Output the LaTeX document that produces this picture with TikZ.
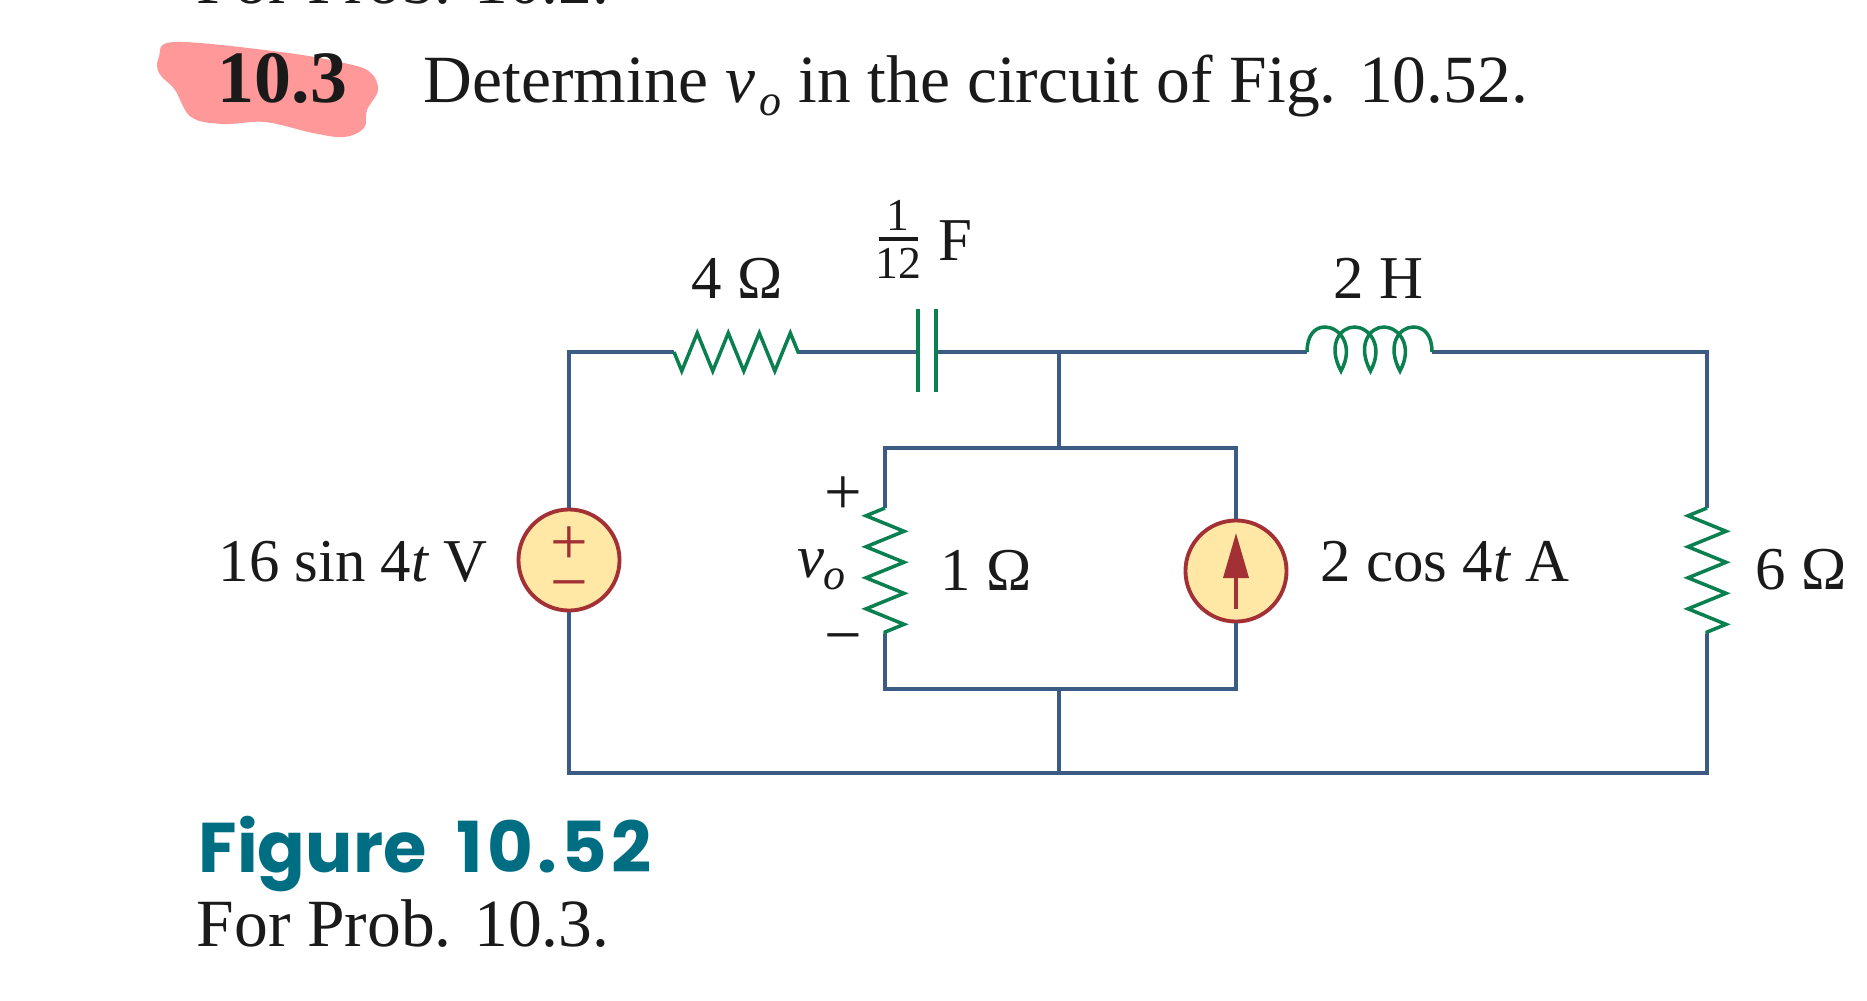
\documentclass[tikz,border=0pt]{standalone}
\usepackage{fontspec}
\setmainfont{Liberation Serif}
\newfontfamily\capfont{Poppins}
\usetikzlibrary{arrows.meta,decorations.pathmorphing}
\definecolor{wirec}{HTML}{3B5B85}
\definecolor{partc}{HTML}{0A8050}
\definecolor{srcc}{HTML}{A33035}
\definecolor{srcf}{HTML}{FFE8A5}
\definecolor{blobc}{HTML}{FF9999}
\definecolor{capc}{HTML}{006E82}
\definecolor{inkc}{HTML}{1A1A1A}
\tikzset{
  wire/.style={draw=wirec,line width=1pt,line join=miter},
  part/.style={draw=partc,line width=1pt},
  resistor/.style={part,decorate,decoration={zigzag,mirror,amplitude=0.19cm,segment length=0.31cm}},
  source/.style={circle,draw=srcc,fill=srcf,line width=1.1pt,minimum size=1.01cm,inner sep=0},
  lbl/.style={anchor=base west,inner sep=0,text=inkc,font=\fontsize{17.3}{20}\selectfont},
  txt/.style={anchor=base west,inner sep=0,text=inkc,font=\fontsize{19.2}{22}\selectfont},
  small/.style={anchor=base,inner sep=0,text=inkc,font=\fontsize{13}{15}\selectfont},
  sign/.style={anchor=base,inner sep=0,font=\fontsize{19}{22}\selectfont},
}
\newcommand{\vo}[1]{{\itshape v\kern#1\raisebox{-0.2em}{\fontsize{12.5}{14}\selectfont o}}}
\begin{document}
\begin{tikzpicture}[x=0.01cm,y=-0.01cm]
\useasboundingbox (0,0) rectangle (1867,1000);
% heading
\fill[blobc] plot[smooth cycle,tension=0.6] coordinates{(175,42)(281,52)(344,63)(370,72)(378,90)(367,110)(364,128)(344,137)(313,133)(265,122)(223,124)(191,117)(175,90)(159,73)(159,57)};
\node[txt] (prev) at (196,3) {For Prob. 10.2.};
\node[txt,font=\fontsize{21}{24}\selectfont\bfseries] (num) at (217,102) {10.3};
\node[txt] (head) at (423,102) {Determine \vo{0.06em} in the circuit of Fig. 10.52.};
% corners and junctions
\coordinate (tl) at (569,352);
\coordinate (tm) at (1059,352);
\coordinate (tr) at (1707,352);
\coordinate (bl) at (569,773);
\coordinate (bm) at (1059,773);
\coordinate (br) at (1707,773);
\coordinate (itl) at (885,448);
\coordinate (itm) at (1059,448);
\coordinate (itr) at (1236,448);
\coordinate (ibl) at (885,689);
\coordinate (ibm) at (1059,689);
\coordinate (ibr) at (1236,689);
% parts
\node[source] (vs) at (569,560) {};
\node[source] (is) at (1236,571) {};
\coordinate (r4a) at (674,352);
\coordinate (r4b) at (799,352);
\coordinate (c1) at (918,352);
\coordinate (c2) at (936,352);
\coordinate (l1) at (1307,352);
\coordinate (l2) at (1432,352);
\coordinate (r1a) at (885,508);
\coordinate (r1b) at (885,634);
\coordinate (r6a) at (1707,508);
\coordinate (r6b) at (1707,634);
\draw[wire] (vs.north)--(tl)--(r4a);
\draw[wire] (r4b)--(c1);
\draw[wire] (c2)--(l1);
\draw[wire] (l2)--(tr)--(r6a);
\draw[wire] (r6b)--(br)--(bl)--(vs.south);
\draw[wire] (tm)--(itm);
\draw[wire] (r1a)--(itl)--(itr)--(is.north);
\draw[wire] (r1b)--(ibl)--(ibr)--(is.south);
\draw[wire] (ibm)--(bm);
\draw[resistor] (r4a)--(r4b);
\draw[resistor] (r1a)--(r1b);
\draw[resistor] (r6a)--(r6b);
\draw[part] (c1)+(0,-43)--+(0,40);
\draw[part] (c2)+(0,-43)--+(0,40);
\draw[part] (l1) .. controls (1307,335) and (1315,327) .. (1325,327)
  \foreach \x in {1341,1370.5,1400}{ .. controls (\x-2,327) and (\x+14,345) .. (\x,371) .. controls (\x-14,345) and (\x-1,327) .. (\x+13.5,327)}
  .. controls (1424,327) and (1432,335) .. (l2);
% signs in the sources
\node[sign,text=srcc] (vsp) at (569,564) {+};
\node[sign,text=srcc] (vsm) at (569,604) {\textminus};
\coordinate (ia) at (1236,609);
\coordinate (ib) at (1236,533);
\draw[draw=srcc,fill=srcc,line width=1pt,-{Triangle[length=0.45cm,width=0.25cm]}] (ia)--(ib);
% labels
\node[lbl] (r4l) at (691,298) {4 Ω};
\node[small] (fn) at (898,230) {1};
\node[small] (fd) at (898,278) {12};
\coordinate (fa) at (879,239);
\coordinate (fb) at (918,239);
\draw[inkc,line width=0.9pt] (fa)--(fb);
\node[lbl] (cl) at (938,260) {F};
\node[lbl] (ll) at (1333,298) {2 H};
\node[lbl] (vl) at (218,581) {16 sin 4{\itshape t} V};
\node[sign,text=inkc] (vop) at (843,514) {+};
\node[lbl] (vol) at (797,577) {\vo{-0.02em}};
\node[sign,text=inkc] (vom) at (843,657) {\textminus};
\node[lbl] (r1l) at (940,590) {1 Ω};
\node[lbl] (il) at (1320,581) {2 cos 4{\itshape t} A};
\node[lbl] (r6l) at (1755,589) {6 Ω};
% caption
\node[anchor=base west,inner sep=0,text=capc,font=\capfont\bfseries\fontsize{20}{24}\selectfont] (cap) at (198,872) {Figure\hspace{0.43em}{\addfontfeature{LetterSpace=6}10.52}};
\node[txt] (sub) at (196,946) {For Prob. 10.3.};
\end{tikzpicture}
\end{document}
